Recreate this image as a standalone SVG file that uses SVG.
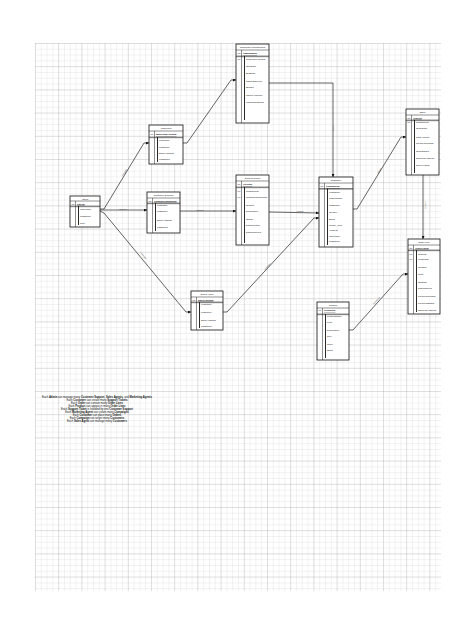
<svg xmlns="http://www.w3.org/2000/svg" width="474" height="632" viewBox="0 0 474 632">
<style>
.tb{fill:#fff;stroke:#111;stroke-width:0.8}
.ln{stroke:#222;stroke-width:0.5;fill:none}
.tk{stroke:#111;stroke-width:0.9;fill:none}
.t{font-family:"Liberation Sans",Arial,sans-serif;font-size:2.4px;fill:#111}
.ti{font-family:"Liberation Sans",Arial,sans-serif;font-size:2.4px;fill:#111;text-anchor:middle}
.pk{font-family:"Liberation Sans",Arial,sans-serif;font-size:2.4px;fill:#111;font-weight:bold;text-decoration:underline}
.c{stroke:#222;stroke-width:0.7;fill:none}
.lb{font-family:"Liberation Sans",Arial,sans-serif;font-size:2px;fill:#444;text-anchor:middle}
.note{font-family:"Liberation Sans",Arial,sans-serif;font-size:2.7px;fill:#111;text-anchor:middle}
</style>
<defs>
<pattern id="minor" x="35" y="43" width="5.8" height="5.8" patternUnits="userSpaceOnUse"><path d="M5.8 0H0V5.8" fill="none" stroke="#c4c4c4" stroke-width="0.45"/></pattern>
<pattern id="major" x="35" y="43" width="23.2" height="23.2" patternUnits="userSpaceOnUse"><path d="M23.2 0H0V23.2" fill="none" stroke="#a8a8a8" stroke-width="0.5"/></pattern>
<marker id="ar" viewBox="0 0 6 6" refX="6" refY="3" markerWidth="3" markerHeight="3" markerUnits="userSpaceOnUse" orient="auto"><path d="M0 0L6 3L0 6z" fill="#111"/></marker>
</defs>
<rect width="474" height="632" fill="#fff"/>
<rect x="35" y="43" width="406" height="548" fill="url(#minor)"/>
<rect x="35" y="43" width="406" height="548" fill="url(#major)"/>

<g id="connectors">
<polyline class="c" points="100,209 104,209 144,143 149,143" marker-end="url(#ar)"/>
<text class="lb" transform="translate(125,173) rotate(-58)">manages</text>
<polyline class="c" points="100,210 147,210" marker-end="url(#ar)"/>
<text class="lb" x="123" y="209.5">manages</text>
<polyline class="c" points="100,211 104,213 186,312 191,312" marker-end="url(#ar)"/>
<text class="lb" transform="translate(143,256) rotate(50)">manages</text>
<polyline class="c" points="183,143 187,143 231,80 236,80" marker-end="url(#ar)"/>
<polyline class="c" points="269,83 333,83 333,177" marker-end="url(#ar)"/>
<text class="lb" transform="translate(332.5,128) rotate(90)">targets</text>
<polyline class="c" points="180,211 236,211" marker-end="url(#ar)"/>
<text class="lb" x="200" y="210.5">handles</text>
<polyline class="c" points="269,212 319,213" marker-end="url(#ar)"/>
<text class="lb" x="300" y="211.5">creates</text>
<polyline class="c" points="223,312 227,312 314,218 319,218" marker-end="url(#ar)"/>
<text class="lb" transform="translate(268,267) rotate(-47)">manages</text>
<polyline class="c" points="353,209 357,209 401,137 406,137" marker-end="url(#ar)"/>
<text class="lb" transform="translate(380,171) rotate(-58)">places</text>
<polyline class="c" points="423,175 423,239" marker-end="url(#ar)"/>
<text class="lb" transform="translate(424.5,205) rotate(90)">contains</text>
<polyline class="c" points="349,330 353,330 403,274 408,274" marker-end="url(#ar)"/>
<text class="lb" transform="translate(377,301) rotate(-48)">appears in</text>
</g>

<g id="campaign">
<rect class="tb" x="236" y="44" width="33" height="79"/>
<text class="ti" x="252.5" y="48">Campaign Management</text>
<path class="ln" d="M236 50H269M236 56H269M236 56.7H269M241.5 50V123"/>
<path class="tk" d="M244.5 56V120"/>
<text class="t" x="237.5" y="54">PK</text><text class="pk" x="243" y="54">CampaignID</text>
<text class="t" x="237.5" y="60">FK</text><text class="t" x="246" y="60">MarketingAgentID</text>
<text class="t" x="246" y="66.5">StartDate</text>
<text class="t" x="246" y="74">EndDate</text>
<text class="t" x="246" y="81.5">CampaignType</text>
<text class="t" x="246" y="88">Budget</text>
<text class="t" x="246" y="95.5">TargetAudience</text>
<text class="t" x="246" y="102.5">CampaignStatus</text>
</g>

<g id="marketing">
<rect class="tb" x="149" y="125" width="34" height="39"/>
<text class="ti" x="166" y="129">Marketing</text>
<path class="ln" d="M149 131H183M149 137H183M149 137.7H183M154.5 131V164"/>
<path class="tk" d="M157.5 137V162"/>
<text class="t" x="150.5" y="135">PK</text><text class="pk" x="156" y="135">MarketingAgentID</text>
<text class="t" x="159" y="141">Firstname</text>
<text class="t" x="159" y="147.5">Lastname</text>
<text class="t" x="159" y="154">EmailAddress</text>
<text class="t" x="159" y="160">Password</text>
</g>

<g id="users">
<rect class="tb" x="70" y="196" width="30" height="31"/>
<text class="ti" x="85" y="199.5">Users</text>
<path class="ln" d="M70 201H100M70 206H100M70 206.7H100M75.5 201V227"/>
<path class="tk" d="M78.5 206V225"/>
<text class="t" x="71.5" y="204.5">PK</text><text class="pk" x="77" y="204.5">UserID</text>
<text class="t" x="80" y="210">Username</text>
<text class="t" x="80" y="217">Password</text>
<text class="t" x="80" y="223.5">Role</text>
</g>

<g id="customer-support">
<rect class="tb" x="147" y="192" width="33" height="41"/>
<text class="ti" x="163.5" y="196">Customer Support</text>
<path class="ln" d="M147 198H180M147 203H180M147 203.7H180M152.5 198V233"/>
<path class="tk" d="M155.5 203V231"/>
<text class="t" x="148.5" y="201.5">PK</text><text class="pk" x="154" y="201.5">CustomerSupportID</text>
<text class="t" x="157" y="206">Firstname</text>
<text class="t" x="157" y="212">Lastname</text>
<text class="t" x="157" y="220.5">EmailAddress</text>
<text class="t" x="157" y="227.5">Password</text>
</g>

<g id="support-ticket">
<rect class="tb" x="236" y="175" width="33" height="70"/>
<text class="ti" x="252.5" y="179">Support Ticket</text>
<path class="ln" d="M236 181H269M236 187H269M236 187.7H269M241.5 181V245"/>
<path class="tk" d="M244.5 187V243"/>
<text class="t" x="237.5" y="185">PK</text><text class="pk" x="243" y="185">TicketID</text>
<text class="t" x="237.5" y="191.5">FK</text><text class="t" x="246" y="191.5">CustomerID</text>
<text class="t" x="237.5" y="197.5">FK</text><text class="t" x="246" y="197.5">CustomerSupportID</text>
<text class="t" x="246" y="205.5">Subject</text>
<text class="t" x="246" y="212">Description</text>
<text class="t" x="246" y="219.5">Status</text>
<text class="t" x="246" y="226">DateCreated</text>
<text class="t" x="246" y="233">DateResolved</text>
</g>

<g id="customer">
<rect class="tb" x="319" y="177" width="34" height="70"/>
<text class="ti" x="336" y="181">Customer</text>
<path class="ln" d="M319 183H353M319 188.5H353M319 189.2H353M324.5 183V247"/>
<path class="tk" d="M327.5 188.5V245"/>
<text class="t" x="320.5" y="187">PK</text><text class="pk" x="326" y="187">CustomerID</text>
<text class="t" x="329" y="193">FirstName</text>
<text class="t" x="329" y="199">MiddleName</text>
<text class="t" x="329" y="205.5">LastName</text>
<text class="t" x="329" y="212.5">Gender</text>
<text class="t" x="329" y="219.5">Email</text>
<text class="t" x="329" y="225.5">Phone_num</text>
<text class="t" x="329" y="231">Address</text>
<text class="t" x="329" y="236.5">Username</text>
<text class="t" x="329" y="242">Password</text>
</g>

<g id="order">
<rect class="tb" x="406" y="109" width="33" height="66"/>
<text class="ti" x="422.5" y="113">Order</text>
<path class="ln" d="M406 115H439M406 120H439M406 120.7H439M411.5 115V175"/>
<path class="tk" d="M414.5 120V173"/>
<text class="t" x="407.5" y="118.5">PK</text><text class="pk" x="413" y="118.5">OrderID</text>
<text class="t" x="407.5" y="123">FK</text><text class="t" x="416" y="123">CustomerID</text>
<text class="t" x="416" y="129">OrderDate</text>
<text class="t" x="416" y="137.5">TotalAmount</text>
<text class="t" x="416" y="144">PaymentMethod</text>
<text class="t" x="416" y="151.5">OrderStatus</text>
<text class="t" x="416" y="158.5">ShippingAddress</text>
<text class="t" x="416" y="165.5">DeliveryDate</text>
</g>

<g id="order-line">
<rect class="tb" x="408" y="239" width="32" height="75"/>
<text class="ti" x="424" y="243">Order Line</text>
<path class="ln" d="M408 245H440M408 250H440M408 250.7H440M413.5 245V314"/>
<path class="tk" d="M416.5 250V312"/>
<text class="t" x="409.5" y="248.5">PK</text><text class="pk" x="415" y="248.5">OrderLineID</text>
<text class="t" x="409.5" y="254.5">FK</text><text class="t" x="418" y="254.5">OrderID</text>
<text class="t" x="409.5" y="260">FK</text><text class="t" x="418" y="260">ProductID</text>
<text class="t" x="418" y="267.5">Quantity</text>
<text class="t" x="418" y="275">Price</text>
<text class="t" x="418" y="282.5">Subtotal</text>
<text class="t" x="418" y="289">DateOrdered</text>
<text class="t" x="418" y="296.5">PaymentMethod</text>
<text class="t" x="418" y="303.5">PaymentStatus</text>
<text class="t" x="418" y="311">ShippingAddress</text>
</g>

<g id="sales-agent">
<rect class="tb" x="191" y="291" width="32" height="39"/>
<text class="ti" x="207" y="295">Sales Agent</text>
<path class="ln" d="M191 297H223M191 302H223M191 302.7H223M196.5 297V330"/>
<path class="tk" d="M199.5 302V328"/>
<text class="t" x="192.5" y="300.5">PK</text><text class="pk" x="198" y="300.5">SalesAgentID</text>
<text class="t" x="201" y="305">Firstname</text>
<text class="t" x="201" y="312.5">Lastname</text>
<text class="t" x="201" y="320.5">EmailAddress</text>
<text class="t" x="201" y="327">Password</text>
</g>

<g id="product">
<rect class="tb" x="317" y="302" width="32" height="58"/>
<text class="ti" x="333" y="306">Product</text>
<path class="ln" d="M317 308H349M317 314H349M317 314.7H349M322.5 308V360"/>
<path class="tk" d="M325.5 314V358"/>
<text class="t" x="318.5" y="311">PK</text><text class="pk" x="324" y="311">ProductID</text>
<text class="t" x="327" y="317">ProductName</text>
<text class="t" x="327" y="322.5">Price</text>
<text class="t" x="327" y="330.5">Description</text>
<text class="t" x="327" y="337">Size</text>
<text class="t" x="327" y="344.5">Color</text>
<text class="t" x="327" y="351">Stock</text>
</g>

<g id="notes">
<text class="note" x="97" y="398">Each <tspan font-weight="bold">Admin</tspan> can manage many <tspan font-weight="bold">Customer Support</tspan>, <tspan font-weight="bold">Sales Agents</tspan>, and <tspan font-weight="bold">Marketing Agents</tspan></text>
<text class="note" x="97" y="401">Each <tspan font-weight="bold">Customer</tspan> can create many <tspan font-weight="bold">Support Tickets</tspan></text>
<text class="note" x="97" y="404">Each <tspan font-weight="bold">Order</tspan> can contain many <tspan font-weight="bold">Order Lines</tspan></text>
<text class="note" x="97" y="407">Each <tspan font-weight="bold">Product</tspan> can appear in many <tspan font-weight="bold">Order Lines</tspan></text>
<text class="note" x="97" y="410">Each <tspan font-weight="bold">Support Ticket</tspan> is handled by one <tspan font-weight="bold">Customer Support</tspan></text>
<text class="note" x="97" y="413">Each <tspan font-weight="bold">Marketing Agent</tspan> can create many <tspan font-weight="bold">Campaigns</tspan></text>
<text class="note" x="97" y="416">Each <tspan font-weight="bold">Customer</tspan> can place many <tspan font-weight="bold">Orders</tspan></text>
<text class="note" x="97" y="419">Each <tspan font-weight="bold">Campaign</tspan> can target many <tspan font-weight="bold">Customers</tspan></text>
<text class="note" x="97" y="422">Each <tspan font-weight="bold">Sales Agent</tspan> can manage many <tspan font-weight="bold">Customers</tspan></text>
</g>
</svg>
